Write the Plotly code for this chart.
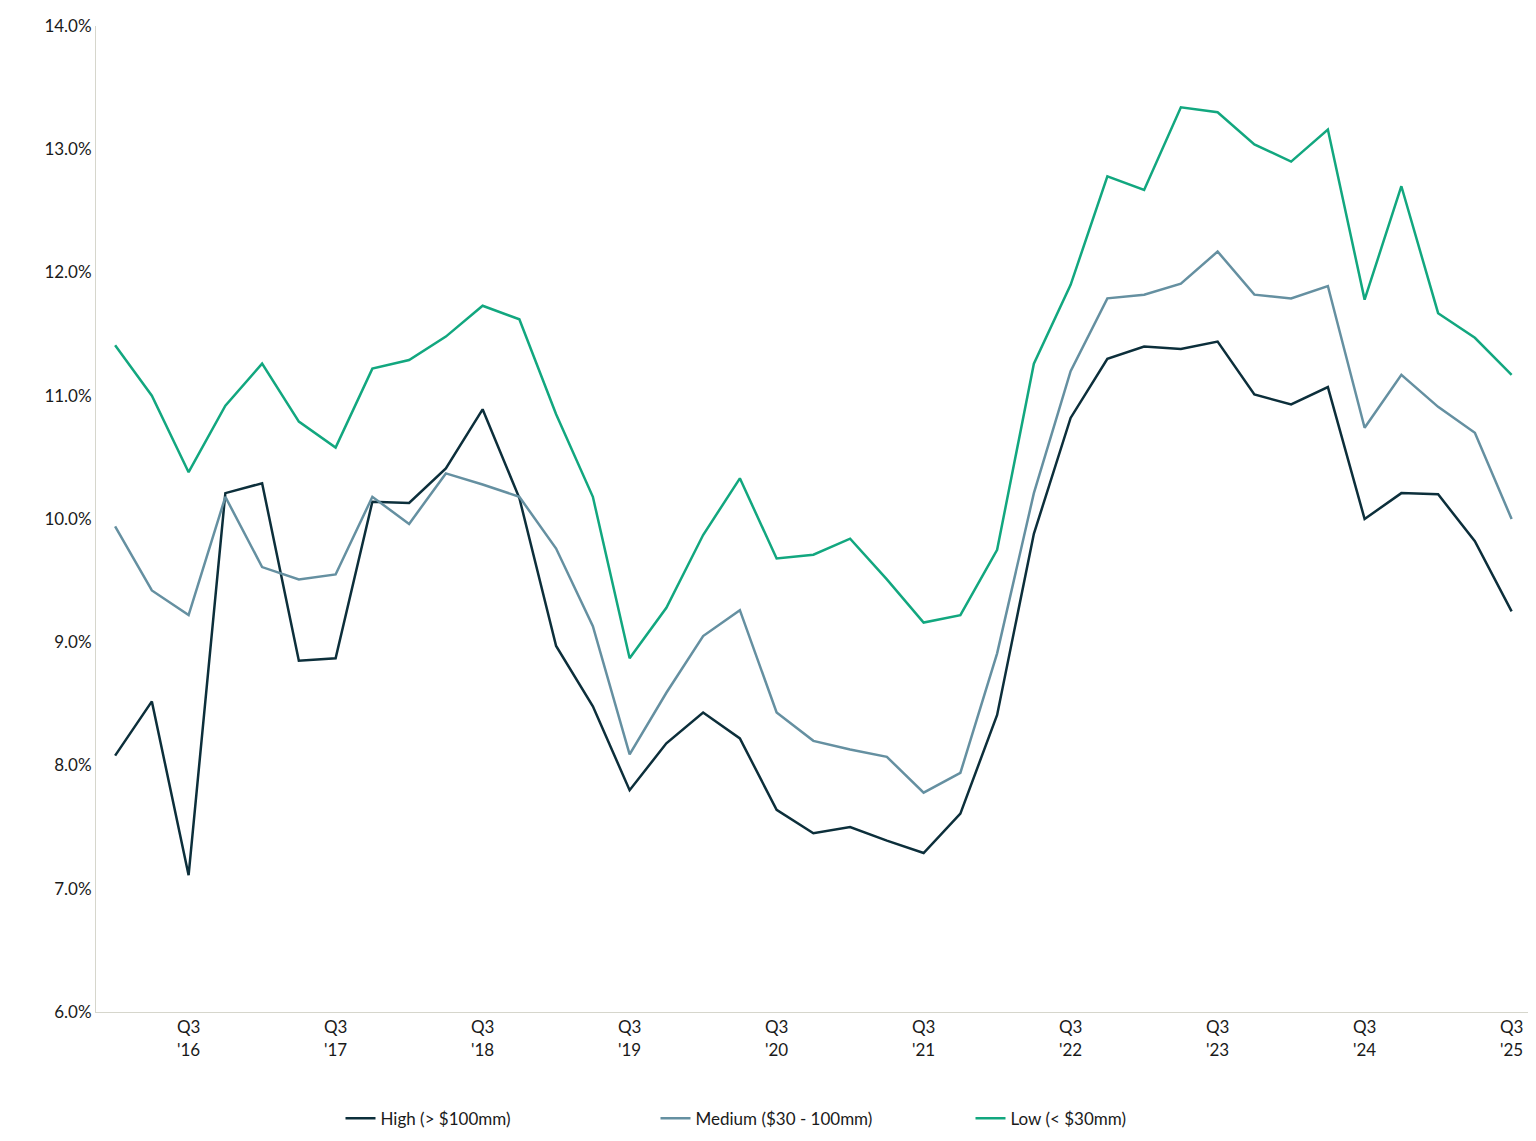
import plotly.graph_objects as go

# Quarterly series, Q1 '16 .. Q3 '25
quarters = [f"Q{q} '{y}" for y in range(16, 26) for q in range(1, 5)][:39]

high = [8.08, 8.52, 7.11, 10.21, 10.29, 8.85, 8.87, 10.14, 10.13, 10.41,
        10.89, 10.17, 8.97, 8.48, 7.80, 8.18, 8.43, 8.22, 7.64, 7.45,
        7.50, 7.39, 7.29, 7.61, 8.41, 9.88, 10.82, 11.30, 11.40, 11.38,
        11.44, 11.01, 10.93, 11.07, 10.00, 10.21, 10.20, 9.82, 9.25]
medium = [9.94, 9.42, 9.22, 10.18, 9.61, 9.51, 9.55, 10.18, 9.96, 10.37,
          10.28, 10.18, 9.76, 9.13, 8.09, 8.59, 9.05, 9.26, 8.43, 8.20,
          8.13, 8.07, 7.78, 7.94, 8.91, 10.21, 11.20, 11.79, 11.82, 11.91,
          12.17, 11.82, 11.79, 11.89, 10.74, 11.17, 10.91, 10.70, 10.00]
low = [11.41, 11.00, 10.38, 10.92, 11.26, 10.79, 10.58, 11.22, 11.29, 11.48,
       11.73, 11.62, 10.85, 10.18, 8.87, 9.28, 9.87, 10.33, 9.68, 9.71,
       9.84, 9.51, 9.16, 9.22, 9.75, 11.26, 11.90, 12.78, 12.67, 13.34,
       13.30, 13.04, 12.90, 13.16, 11.78, 12.70, 11.67, 11.47, 11.17]

tick_idx = [2, 6, 10, 14, 18, 22, 26, 30, 34, 38]
tick_text = [f"Q3<br>'{y}" for y in range(16, 26)]
y_ticks = [6, 7, 8, 9, 10, 11, 12, 13, 14]

x = list(range(len(quarters)))

fig = go.Figure()
series = [
    ("High (> $100mm)", high, "#0c2f3b"),
    ("Medium ($30 - 100mm)", medium, "#6590a1"),
    ("Low (< $30mm)", low, "#12a77f"),
]
for name, vals, color in series:
    fig.add_trace(go.Scatter(x=x, y=vals, name=name, mode="lines",
                             line=dict(color=color, width=2.5),
                             text=quarters, hovertemplate="%{text}: %{y:.1f}%"))

fig.update_xaxes(range=[-0.52, 38.5], tickvals=tick_idx, ticktext=tick_text,
                 showgrid=False, showline=True, linecolor="#d6d6cc",
                 ticks="", zeroline=False, automargin=False)
fig.update_yaxes(range=[6, 14], tickvals=y_ticks,
                 ticktext=[f"{v:.1f}%" for v in y_ticks],
                 showgrid=False, showline=True, linecolor="#d6d6cc",
                 ticks="", zeroline=False, automargin=False)

fig.update_layout(
    width=1536, height=1141,
    margin=dict(l=88, r=14, t=18, b=130),
    plot_bgcolor="white", paper_bgcolor="white",
    font=dict(family="Lato, Open Sans, sans-serif", size=17, color="#1a1a1a"),
    legend=dict(orientation="h", x=0.5, xanchor="center", y=-0.09,
                yanchor="top", font=dict(size=17), itemwidth=30,
                tracegroupgap=0, entrywidthmode="pixels", entrywidth=270),
)

fig.write_html("out.html")
